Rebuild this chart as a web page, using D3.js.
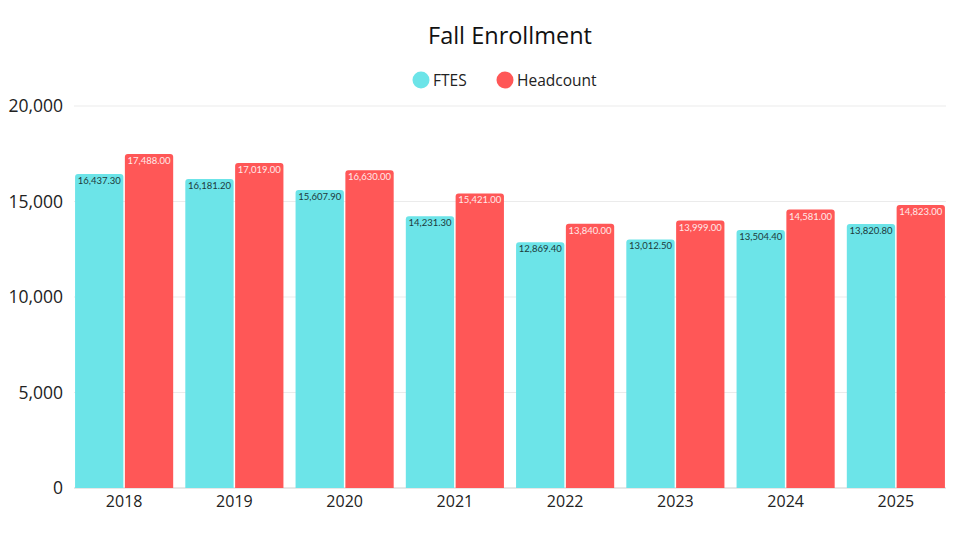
<!DOCTYPE html>
<html>
<head>
<meta charset="utf-8">
<script src="https://cdn.jsdelivr.net/npm/d3@7"></script>
<style>
  body { margin: 0; background: #fff; }
  text { font-family: "Open Sans", Lato, sans-serif; }
  text.val { font-family: Lato, "Open Sans", sans-serif; }
</style>
</head>
<body>
<svg id="chart" width="960" height="540"></svg>
<script>
var years = ['2018', '2019', '2020', '2021', '2022', '2023', '2024', '2025'];
var ftes = [16437.3, 16181.2, 15607.9, 14231.3, 12869.4, 13012.5, 13504.4, 13820.8];
var headcount = [17488, 17019, 16630, 15421, 13840, 13999, 14581, 14823];
var seriesNames = ['FTES', 'Headcount'];
var yTicks = [0, 5000, 10000, 15000, 20000];

var colors = { FTES: '#6ce4e8', Headcount: '#ff5757' };
var labelColors = { FTES: '#1d3a3c', Headcount: '#ffe9e9' };

var svg = d3.select('#chart');
var margin = { top: 106, right: 15, bottom: 52, left: 69 };
var width = 960, height = 540;

var x0 = d3.scaleBand()
    .domain(years)
    .range([margin.left, width - 9])
    .paddingInner(0.11)
    .paddingOuter(0.055);

var x1 = d3.scaleBand()
    .domain(seriesNames)
    .range([0, x0.bandwidth()])
    .paddingInner(0.03);

var y = d3.scaleLinear()
    .domain([0, 20000])
    .range([height - margin.bottom, margin.top]);

// gridlines
svg.append('g')
  .selectAll('line')
  .data(yTicks)
  .join('line')
    .attr('x1', 74)
    .attr('x2', 946)
    .attr('y1', function(d) { return y(d); })
    .attr('y2', function(d) { return y(d); })
    .attr('stroke', function(d) { return d === 0 ? '#cfcfcf' : '#ebebeb'; })
    .attr('stroke-width', 1);

// y axis labels
var yAxis = d3.axisLeft(y)
    .tickValues(yTicks)
    .tickFormat(d3.format(','))
    .tickSize(0)
    .tickPadding(0);

svg.append('g')
    .attr('transform', 'translate(63,0)')
    .call(yAxis)
    .call(function(g) { g.select('.domain').remove(); })
    .selectAll('text')
    .attr('font-size', 17.5)
    .attr('fill', '#222');

// x axis labels
var xAxis = d3.axisBottom(x0).tickSize(0).tickPadding(8);
svg.append('g')
    .attr('transform', 'translate(0,' + (height - margin.bottom) + ')')
    .call(xAxis)
    .call(function(g) { g.select('.domain').remove(); })
    .selectAll('text')
    .attr('font-size', 16)
    .attr('fill', '#222');

var rows = years.map(function(yr, i) {
  return { year: yr, values: [
    { key: 'FTES', value: ftes[i] },
    { key: 'Headcount', value: headcount[i] }
  ] };
});

// rounded-top bar path
function barPath(xp, yp, w, h, r) {
  return 'M' + xp + ',' + (yp + h) +
    'V' + (yp + r) +
    'Q' + xp + ',' + yp + ' ' + (xp + r) + ',' + yp +
    'H' + (xp + w - r) +
    'Q' + (xp + w) + ',' + yp + ' ' + (xp + w) + ',' + (yp + r) +
    'V' + (yp + h) + 'Z';
}

var fmt = d3.format(',.2f');

var groups = svg.append('g')
  .selectAll('g')
  .data(rows)
  .join('g')
    .attr('transform', function(d) { return 'translate(' + x0(d.year) + ',0)'; });

groups.selectAll('path')
  .data(function(d) { return d.values; })
  .join('path')
    .attr('d', function(d) {
      return barPath(x1(d.key), y(d.value), x1.bandwidth(), y(0) - y(d.value), 3);
    })
    .attr('fill', function(d) { return colors[d.key]; });

groups.selectAll('text.val')
  .data(function(d) { return d.values; })
  .join('text')
    .attr('class', 'val')
    .attr('x', function(d) { return x1(d.key) + x1.bandwidth() / 2; })
    .attr('y', function(d) { return y(d.value) + 10; })
    .attr('text-anchor', 'middle')
    .attr('font-size', 9.5)
    .attr('fill', function(d) { return labelColors[d.key]; })
    .text(function(d) { return fmt(d.value); });

// title
svg.append('text')
    .attr('x', 510)
    .attr('y', 44)
    .attr('text-anchor', 'middle')
    .attr('font-size', 23.5)
    .attr('fill', '#111')
    .text('Fall Enrollment');

// legend
var legend = svg.append('g')
  .selectAll('g')
  .data(seriesNames)
  .join('g')
    .attr('transform', function(d, i) { return 'translate(' + (i === 0 ? 421 : 505) + ',80)'; });

legend.append('circle')
    .attr('r', 8.5)
    .attr('fill', function(d) { return colors[d]; });

legend.append('text')
    .attr('x', 12)
    .attr('y', 5.5)
    .attr('font-size', 15.5)
    .attr('fill', '#222')
    .text(function(d) { return d; });
</script>
</body>
</html>
